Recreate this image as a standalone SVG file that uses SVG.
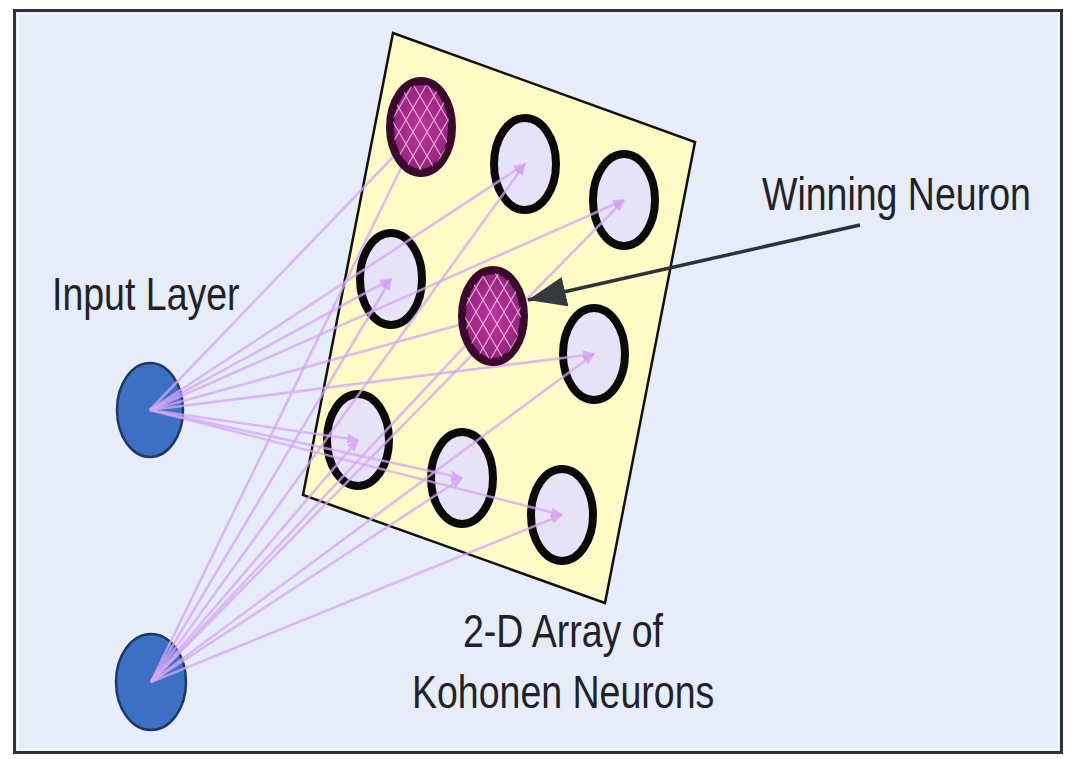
<svg xmlns="http://www.w3.org/2000/svg" width="1071" height="759" viewBox="0 0 1071 759">
<style>
.lbl{font-family:"Liberation Sans",Arial,sans-serif;fill:#1f2328;font-size:37.5px}
.neuron{fill:#e6e3f7;stroke:#0a0a0a;stroke-width:8}
.win{fill:url(#mag);stroke:#3a0a2e;stroke-width:8}
.input{fill:#3d70c2;stroke:#1d3866;stroke-width:2.5}
.conn{stroke:#d6a6f4;stroke-width:2.6;fill:none;opacity:0.75}
</style>
<defs>
<radialGradient id="mag" cx="50%" cy="50%" r="55%">
<stop offset="0" stop-color="#b9359c"/>
<stop offset="0.8" stop-color="#9c2482"/>
<stop offset="1" stop-color="#6e124f"/>
</radialGradient>
<pattern id="hatch" width="14" height="24" patternUnits="userSpaceOnUse">
<path d="M0 0 L14 24 M14 0 L0 24" stroke="#ffffff" stroke-width="1.2" stroke-opacity="0.6" fill="none"/>
</pattern>
<marker id="ah" viewBox="0 -6 12 12" refX="11" refY="0" markerWidth="12" markerHeight="12" markerUnits="userSpaceOnUse" orient="auto">
<path d="M0 -5 L12 0 L0 5 z" fill="#d49af2"/>
</marker>
<marker id="dark" viewBox="0 -16 40 32" refX="38" refY="0" markerWidth="40" markerHeight="32" markerUnits="userSpaceOnUse" orient="auto">
<path d="M0 -15 L38 0 L0 15 z" fill="#35383d"/>
</marker>
</defs>
<rect x="0" y="0" width="1071" height="759" fill="#ffffff"/>
<rect id="frame" x="14.5" y="10.5" width="1047" height="742" fill="#e6ecf8" stroke="#2f3236" stroke-width="3"/>
<rect x="18" y="14" width="1040" height="735" fill="none" stroke="#f3f6fc" stroke-width="2"/>
<polygon id="panel" points="393,33 695,142 605,603 303,495" fill="#fefbc6" stroke="#111111" stroke-width="2.5"/>
<g id="input1"><ellipse class="input" cx="150" cy="410" rx="33" ry="47"/></g>
<g id="input2"><ellipse class="input" cx="151" cy="682" rx="35" ry="48"/></g>
<g id="n2"><ellipse class="neuron" cx="525" cy="164" rx="31" ry="46"/></g>
<g id="n3"><ellipse class="neuron" cx="624" cy="200" rx="31" ry="46"/></g>
<g id="n4"><ellipse class="neuron" cx="391" cy="279" rx="31" ry="46"/></g>
<g id="n6"><ellipse class="neuron" cx="594" cy="354" rx="31" ry="46"/></g>
<g id="n7"><ellipse class="neuron" cx="358" cy="440" rx="31" ry="46"/></g>
<g id="n8"><ellipse class="neuron" cx="462" cy="478" rx="31" ry="46"/></g>
<g id="n9"><ellipse class="neuron" cx="562" cy="515" rx="31" ry="46"/></g>
<g id="connectors">
<line class="conn" x1="150" y1="410" x2="393" y2="157"/>
<line class="conn" x1="150" y1="410" x2="525" y2="164" marker-end="url(#ah)"/>
<line class="conn" x1="150" y1="410" x2="624" y2="200" marker-end="url(#ah)"/>
<line class="conn" x1="150" y1="410" x2="391" y2="279" marker-end="url(#ah)"/>
<line class="conn" x1="150" y1="410" x2="459" y2="325"/>
<line class="conn" x1="150" y1="410" x2="594" y2="354" marker-end="url(#ah)"/>
<line class="conn" x1="150" y1="410" x2="358" y2="440" marker-end="url(#ah)"/>
<line class="conn" x1="150" y1="410" x2="462" y2="478" marker-end="url(#ah)"/>
<line class="conn" x1="150" y1="410" x2="562" y2="515" marker-end="url(#ah)"/>
<line class="conn" x1="151" y1="682" x2="401" y2="168"/>
<line class="conn" x1="151" y1="682" x2="525" y2="164" marker-end="url(#ah)"/>
<line class="conn" x1="151" y1="682" x2="624" y2="200" marker-end="url(#ah)"/>
<line class="conn" x1="151" y1="682" x2="391" y2="279" marker-end="url(#ah)"/>
<line class="conn" x1="151" y1="682" x2="465" y2="346"/>
<line class="conn" x1="151" y1="682" x2="594" y2="354" marker-end="url(#ah)"/>
<line class="conn" x1="151" y1="682" x2="358" y2="440" marker-end="url(#ah)"/>
<line class="conn" x1="151" y1="682" x2="462" y2="478" marker-end="url(#ah)"/>
<line class="conn" x1="151" y1="682" x2="562" y2="515" marker-end="url(#ah)"/>
<line x1="860" y1="225" x2="528" y2="300" stroke="#2e3136" stroke-width="3.5" marker-end="url(#dark)"/>
</g>
<g id="n1"><ellipse class="win" cx="421" cy="127" rx="31" ry="46"/><ellipse cx="421" cy="127" rx="28" ry="43" fill="url(#hatch)"/></g>
<g id="n5"><ellipse class="win" cx="493" cy="316" rx="31" ry="46"/><ellipse cx="493" cy="316" rx="28" ry="43" fill="url(#hatch)"/></g>
<g id="labels">
<text class="lbl" transform="translate(52,310) scale(1,1.25)">Input Layer</text>
<text class="lbl" transform="translate(762,210) scale(1,1.25)">Winning Neuron</text>
<text class="lbl" transform="translate(463,647) scale(1,1.25)">2-D Array of</text>
<text class="lbl" transform="translate(412,708) scale(1,1.25)">Kohonen Neurons</text>
</g>
</svg>
